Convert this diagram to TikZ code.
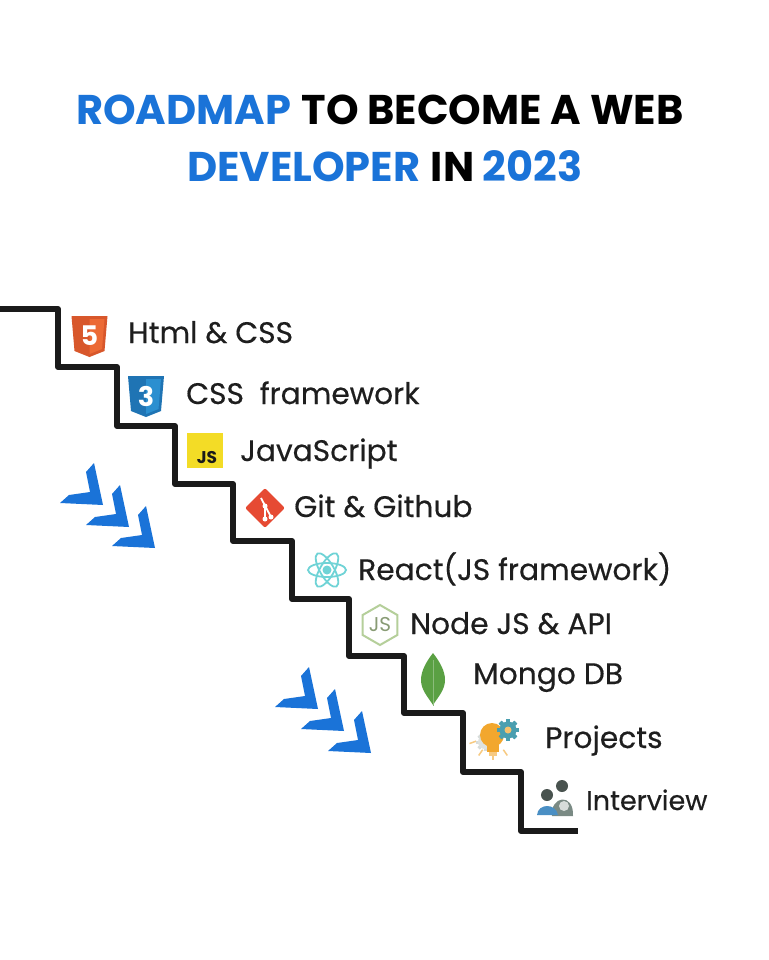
\documentclass[tikz,border=0pt]{standalone}
\usepackage{fontspec}
\setmainfont{Poppins}
\newfontfamily\labelfont[FakeBold=0.35]{Poppins}
\usetikzlibrary{positioning,shapes.geometric}
\definecolor{roadblue}{HTML}{1A73D8}
\definecolor{stairblack}{HTML}{1A1A1A}
\definecolor{labelblack}{HTML}{1E1E1E}
\definecolor{htmlred}{HTML}{D8572B}
\definecolor{htmllight}{HTML}{EC6A35}
\definecolor{cssblue}{HTML}{1F74B4}
\definecolor{csslight}{HTML}{2B8FD0}
\definecolor{jsyellow}{HTML}{F3DC26}
\definecolor{gitred}{HTML}{E64A33}
\definecolor{reactteal}{HTML}{6FD3D6}
\definecolor{nodegreen}{HTML}{B5CF9A}
\definecolor{leafgreen}{HTML}{5AA043}
\definecolor{bulbyellow}{HTML}{F2A72E}
\definecolor{gearteal}{HTML}{4A9FB0}
\definecolor{peoplegrey}{HTML}{7A8A84}
\definecolor{peopleblue}{HTML}{4A8FC4}
\newcommand{\chevron}[2]{\fill[roadblue] (#1,#2) -- ++(-9,-42) -- ++(-8,9) -- ++(4,20) -- ++(-21,3) -- ++(-9,8) -- cycle;}
\newcommand{\shieldicon}[5]{%
  \fill[#3] (#1-18,#2-20) -- (#1+18,#2-20) -- (#1+15,#2+15) -- (#1,#2+21) -- (#1-15,#2+15) -- cycle;
  \fill[#4] (#1,#2-17) -- (#1+15,#2-17) -- (#1+12.5,#2+13) -- (#1,#2+18) -- cycle;
  \node[shieldnum] (#5) at (#1,#2) {};}
\tikzset{
  title/.style={font=\bfseries\fontsize{41.5}{48}\selectfont,anchor=base west,inner sep=0pt},
  steplabel/.style={font=\labelfont\fontsize{29.7}{34}\selectfont,text=labelblack,anchor=base west,inner sep=0pt},
  shieldnum/.style={font=\bfseries\fontsize{27}{30}\selectfont,text=white,inner sep=0pt},
}
\begin{document}
\begin{tikzpicture}[x=1pt,y=-1pt]
  \useasboundingbox (0,0) rectangle (768,960);
  \fill[white] (0,0) rectangle (768,960);
  % title
  \node[title,text=roadblue] (road) at (76,125) {ROADMAP};
  \node[title,right=10pt of road.base east,anchor=base west] (web) {TO BECOME A WEB};
  \node[title,text=roadblue] (dev) at (187,182) {DEVELOPER};
  \node[title,right=10pt of dev.base east,anchor=base west] (in) {IN};
  \node[title,text=roadblue,right=8pt of in.base east,anchor=base west] (year) {2023};
  % stairs
  \draw[stairblack,line width=6pt,line join=round] (0,309) -- (58,309) -- (58,367) -- (117,367) -- (117,426)
    -- (175,426) -- (175,484) -- (233,484) -- (233,541) -- (292,541) -- (292,599) -- (349,599)
    -- (349,656) -- (404,656) -- (404,713) -- (463,713) -- (463,772) -- (521,772) -- (521,831) -- (578,831);
  % arrows
  \chevron{103}{505} \chevron{129}{527} \chevron{155}{548}
  \chevron{318}{709} \chevron{344}{731} \chevron{371}{753}
  % labels
  \node[steplabel] (html) at (128,343) {Html \& CSS};
  \node[steplabel] (css) at (186,404) {CSS\ \ framework};
  \node[steplabel] (js) at (240,461) {JavaScript};
  \node[steplabel] (git) at (294,517) {Git \& Github};
  \node[steplabel] (react) at (358,580) {React(JS framework)};
  \node[steplabel] (nodejs) at (410,634) {Node JS \& API};
  \node[steplabel] (mongo) at (473,684) {Mongo DB};
  \node[steplabel] (projects) at (545,748) {Projects};
  \node[steplabel,font=\labelfont\fontsize{27}{32}\selectfont] (interview) at (586,810) {Interview};
  % html and css
  \shieldicon{89.5}{336}{htmlred}{htmllight}{htmlicon}
  \node[shieldnum] at (htmlicon) {5};
  \shieldicon{146}{396}{cssblue}{csslight}{cssicon}
  \node[shieldnum] at (cssicon) {3};
  % js
  \fill[jsyellow] (187,433) rectangle (223,468);
  \node[font=\bfseries\fontsize{17}{20}\selectfont,text=stairblack,inner sep=0pt] (jsicon) at (207,458) {JS};
  % git
  \node[diamond,aspect=1,fill=gitred,rounded corners=2pt,minimum size=40pt,inner sep=0pt] (giticon) at (265,508) {};
  \draw[white,line width=1.8pt] (261,498) -- (271,517) (265,506) -- (265,519);
  \fill[white] (265,519) circle (2.5pt) (271,517) circle (2.5pt) (265,506) circle (2.5pt);
  % react
  \foreach \a in {0,60,120}
    \draw[reactteal,line width=1.8pt,rotate around={\a:(327,570)}] (327,570) ellipse (19pt and 7pt);
  \fill[reactteal] (327,570) circle (4.5pt);
  % node
  \node[regular polygon,regular polygon sides=6,rotate=30,draw=nodegreen,line width=2pt,minimum size=40pt,inner sep=0pt] (nodeicon) at (380,625) {};
  \node[font=\fontsize{20}{22}\selectfont,text=nodegreen!75!black,inner sep=0pt] at (nodeicon) {JS};
  % mongo
  \fill[leafgreen] (433,653) .. controls (426,662) and (421,671) .. (421,680)
    .. controls (421,690) and (428,697) .. (433,705) .. controls (438,697) and (445,690) .. (445,680)
    .. controls (445,671) and (440,662) .. (433,653) -- cycle;
  \draw[leafgreen!70!white,line width=0.8pt] (433,660) -- (433,706);
  % projects
  \foreach \a in {200,235,270,305}
    \draw[bulbyellow!60!white,line width=1.5pt,rotate around={\a:(493,735)}] (511,735) -- (518,735);
  \foreach \a in {0,45,...,315}
    \fill[peoplegrey!30!white,rotate around={\a:(485,742)}] (483.5,733) rectangle (486.5,751);
  \fill[peoplegrey!25!white] (485,742) circle (7pt);
  \fill[bulbyellow] (492,735) circle (12pt);
  \fill[bulbyellow] (487,743) rectangle (499,752);
  \fill[bulbyellow!60!white] (489,752) rectangle (497,756);
  \foreach \a in {0,45,...,315}
    \fill[gearteal,rotate around={\a:(508,730)}] (506,719) rectangle (510,741);
  \fill[gearteal] (508,730) circle (8.5pt);
  \fill[bulbyellow!70!white] (508,730) circle (3.5pt);
  % interview
  \fill[peoplegrey!60!black] (562,786) circle (6pt);
  \fill[peoplegrey] (552,816) .. controls (550,796) and (574,792) .. (573,816) -- cycle;
  \fill[peoplegrey!60!black] (547,795) circle (6pt);
  \fill[peopleblue] (537,815) .. controls (538,803) and (556,803) .. (558,815) -- cycle;
  \fill[white!70!peoplegrey] (564,806) circle (5pt);
\end{tikzpicture}
\end{document}
